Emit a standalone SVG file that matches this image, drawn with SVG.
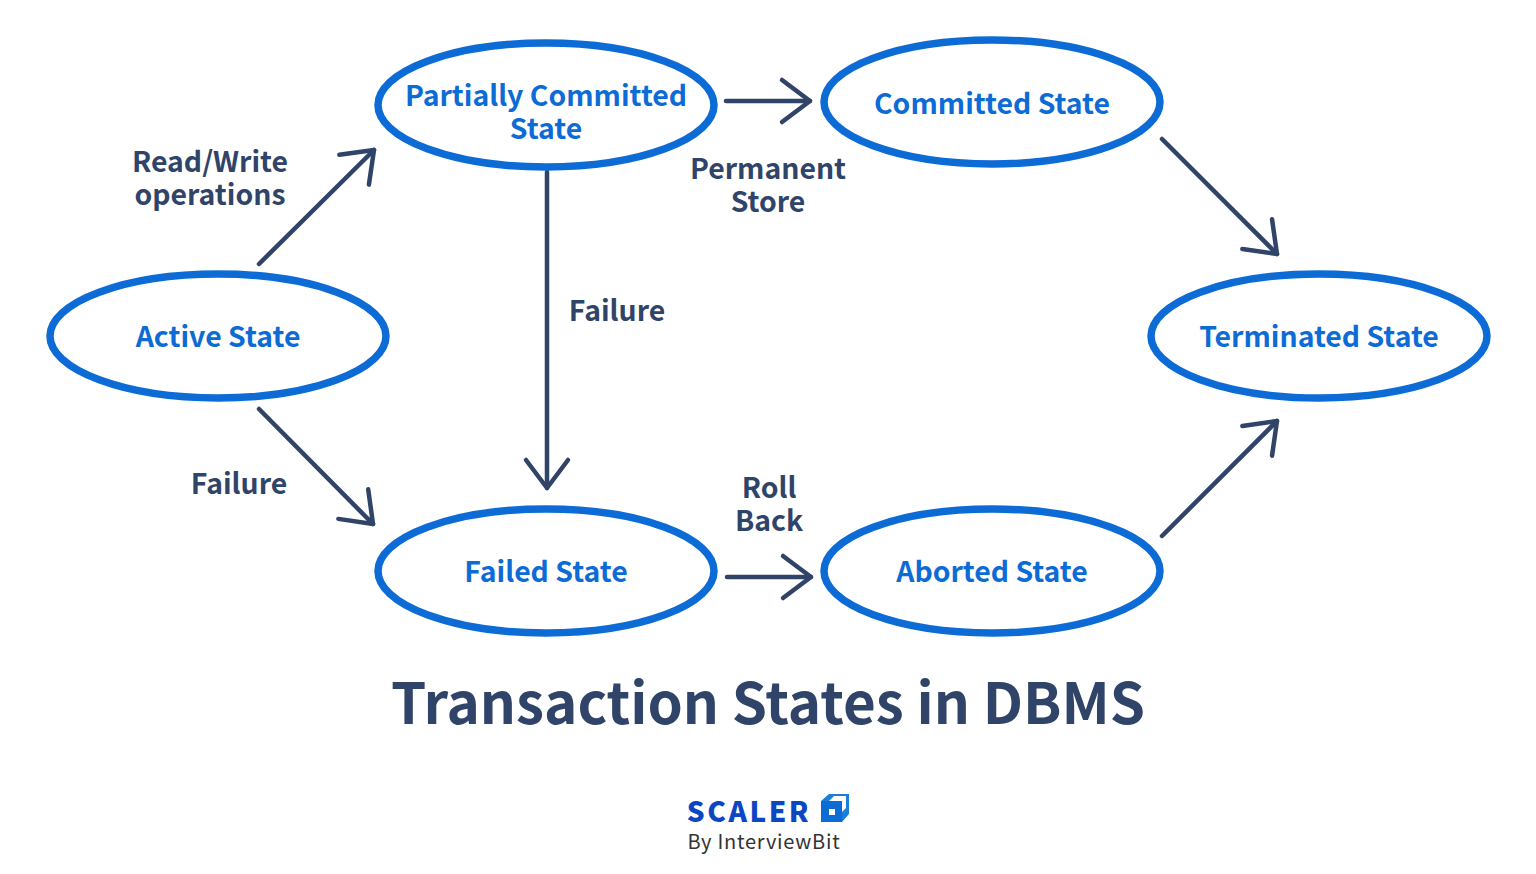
<svg xmlns="http://www.w3.org/2000/svg" width="1536" height="874" viewBox="0 0 1536 874">
<defs><marker id="arr" viewBox="-32 -25 36 50" markerWidth="36" markerHeight="50" refX="0" refY="0" orient="auto" markerUnits="userSpaceOnUse"><path d="M-28,-21 L0,0 L-28,21" fill="none" stroke="#2f4468" stroke-width="4.5" stroke-linecap="round" stroke-linejoin="round"/></marker></defs>
<style>
.n ellipse{fill:#fff;stroke:#0d6bd6;stroke-width:7.5}
.n text{fill:#0d6bd6;font:700 28.4px "Noto Sans CJK SC","Noto Sans",sans-serif;text-anchor:middle}
.l{fill:#2f4468;font:700 28.4px "Noto Sans CJK SC","Noto Sans",sans-serif;text-anchor:middle}
.c line{stroke:#2f4468;stroke-width:4.5;stroke-linecap:round;marker-end:url(#arr)}
</style>
<rect width="1536" height="874" fill="#fff"/>
<g class="c" id="connectors">
<line x1="259" y1="264" x2="374" y2="150"/>
<line x1="259" y1="409" x2="373" y2="524"/>
<line x1="547" y1="172" x2="547" y2="488"/>
<line x1="726" y1="101" x2="810" y2="101"/>
<line x1="727" y1="577" x2="811" y2="577"/>
<line x1="1162" y1="139" x2="1277" y2="254"/>
<line x1="1162" y1="536" x2="1277" y2="421"/>
</g>
<g class="n" id="active"><ellipse cx="218" cy="336" rx="168" ry="62"/><text x="218" y="347">Active State</text></g>
<g class="n" id="partial"><ellipse cx="546" cy="105" rx="168" ry="62"/><text x="546" y="106">Partially Committed</text><text x="546" y="139">State</text></g>
<g class="n" id="committed"><ellipse cx="992" cy="102" rx="168" ry="62"/><text x="992" y="114">Committed State</text></g>
<g class="n" id="terminated"><ellipse cx="1319" cy="336" rx="168" ry="62"/><text x="1319" y="347">Terminated State</text></g>
<g class="n" id="failed"><ellipse cx="546" cy="571" rx="168" ry="62"/><text x="546" y="582">Failed State</text></g>
<g class="n" id="aborted"><ellipse cx="992" cy="571" rx="168" ry="62"/><text x="992" y="582">Aborted State</text></g>
<text class="l" x="210" y="172">Read/Write</text><text class="l" x="210" y="205">operations</text>
<text class="l" x="768" y="179">Permanent</text><text class="l" x="768" y="212">Store</text>
<text class="l" x="617" y="321">Failure</text>
<text class="l" x="239" y="494">Failure</text>
<text class="l" x="769" y="498">Roll</text><text class="l" x="769" y="531">Back</text>
<text x="768" y="724" fill="#2f4468" font-family="Noto Sans CJK SC,Noto Sans,sans-serif" font-weight="700" font-size="56.5" text-anchor="middle">Transaction States in DBMS</text>
<text x="749" y="822" fill="#0b46c4" font-family="Noto Sans CJK SC,sans-serif" font-weight="900" font-size="28" letter-spacing="2.5" text-anchor="middle">SCALER</text>
<g id="logo-icon"><path d="M821 801 L829 794 H849 V814 L842 822 V801 Z" fill="#1a7fd8"/><path d="M821 801 H842 V822 H821 Z M829 809 V815 H835 V809 Z" fill="#0d6bd6" fill-rule="evenodd"/><path d="M829 801 L834 796 H846 V808 L842 812 V801 Z" fill="#fff"/></g>
<text x="764" y="849" fill="#333" font-family="Noto Sans CJK SC,sans-serif" font-size="20" letter-spacing="0.75" text-anchor="middle">By InterviewBit</text>
</svg>
